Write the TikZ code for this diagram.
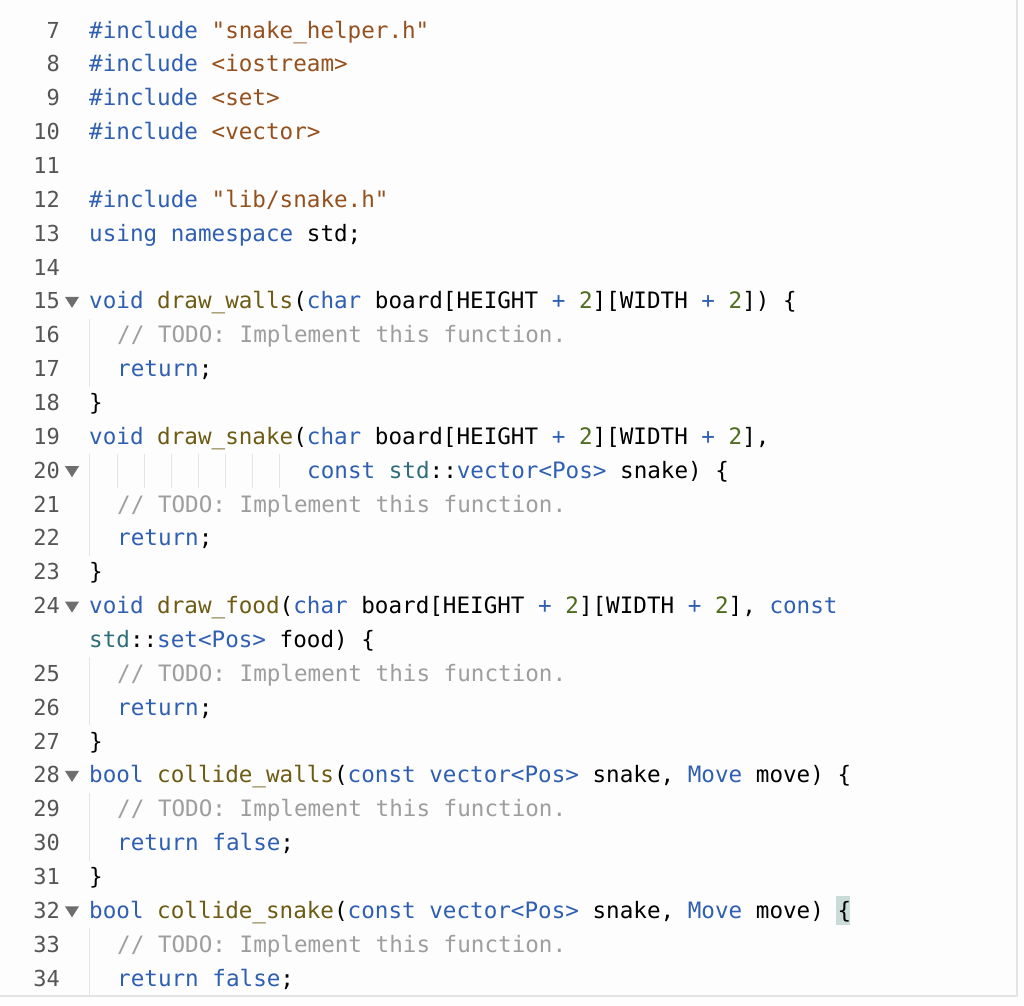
\documentclass[tikz,border=0pt]{standalone}
\usepackage{fontspec}
\setmonofont{DejaVu Sans Mono}
\definecolor{kw}{HTML}{2F5FB3}
\definecolor{fn}{HTML}{6D5B14}
\definecolor{str}{HTML}{94501D}
\definecolor{num}{HTML}{4E6B1E}
\definecolor{ty}{HTML}{2E6E7A}
\definecolor{cm}{HTML}{9E9E9E}
\definecolor{lnc}{HTML}{555555}
\definecolor{bgc}{HTML}{FDFDFD}
\definecolor{guide}{HTML}{E4E4E4}
\definecolor{curs}{HTML}{C9DCD8}
\newcommand\K[1]{\textcolor{kw}{#1}}
\newcommand\F[1]{\textcolor{fn}{#1}}
\newcommand\Sx[1]{\textcolor{str}{#1}}
\newcommand\N[1]{\textcolor{num}{#1}}
\newcommand\T[1]{\textcolor{ty}{#1}}
\newcommand\C[1]{\textcolor{cm}{#1}}
\newcommand\rowy[1]{\fpeval{31+33.86*(#1)}}
\newcommand\lnum[3]{\node[lnstyle] (n#1) at (60,{\rowy{#2}+7}) {#3};}
\newcommand\code[4]{\node[codestyle] (c#1) at (#3,{\rowy{#2}+7}) {#4};}
\newcommand\fold[1]{\fill[lnc!85] (65,{\rowy{#1}-5}) -- (79,{\rowy{#1}-5}) -- (72,{\rowy{#1}+6}) -- cycle;}
\newcommand\vguide[3]{\draw[guide,line width=1pt] (#1,{\rowy{#2}-17}) -- (#1,{\rowy{#3}+17});}
\begin{document}
\begin{tikzpicture}[x=1pt,y=-1pt,
  lnstyle/.style={anchor=base east,inner sep=0,font=\ttfamily\fontsize{22}{24}\selectfont,text=lnc},
  codestyle/.style={anchor=base west,inner sep=0,font=\ttfamily\fontsize{22.6}{26}\selectfont,text=black}]
\fill[bgc] (0,0) rectangle (1024,1005);
\useasboundingbox (0,0) rectangle (1024,1005);
\draw[guide,line width=1.5pt] (1017,0) -- (1017,996) -- (0,996);
% guides
\vguide{89}{9}{10}
\vguide{89}{13}{15}
\foreach \gx in {117,144,171,198,225,252,279} {\vguide{\gx}{13}{13}}
\vguide{89}{19}{20}
\vguide{89}{23}{24}
\vguide{89}{27}{28}
% cursor
\fill[curs] (836,{\rowy{26}-15}) rectangle (850,{\rowy{26}+14});
% folds
\fold{8}\fold{13}\fold{17}\fold{22}\fold{26}
% line numbers
\lnum{7}{0}{7}\lnum{8}{1}{8}\lnum{9}{2}{9}\lnum{10}{3}{10}\lnum{11}{4}{11}
\lnum{12}{5}{12}\lnum{13}{6}{13}\lnum{14}{7}{14}\lnum{15}{8}{15}\lnum{16}{9}{16}
\lnum{17}{10}{17}\lnum{18}{11}{18}\lnum{19}{12}{19}\lnum{20}{13}{20}\lnum{21}{14}{21}
\lnum{22}{15}{22}\lnum{23}{16}{23}\lnum{24}{17}{24}\lnum{25}{19}{25}\lnum{26}{20}{26}
\lnum{27}{21}{27}\lnum{28}{22}{28}\lnum{29}{23}{29}\lnum{30}{24}{30}\lnum{31}{25}{31}
\lnum{32}{26}{32}\lnum{33}{27}{33}\lnum{34}{28}{34}
% code
\code{7}{0}{89}{\K{\#include} \Sx{"snake\_helper.h"}}
\code{8}{1}{89}{\K{\#include} \Sx{<iostream>}}
\code{9}{2}{89}{\K{\#include} \Sx{<set>}}
\code{10}{3}{89}{\K{\#include} \Sx{<vector>}}
\code{12}{5}{89}{\K{\#include} \Sx{"lib/snake.h"}}
\code{13}{6}{89}{\K{using} \K{namespace} std;}
\code{15}{8}{89}{\K{void} \F{draw\_walls}(\K{char} board[HEIGHT \K{+} \N{2}][WIDTH \K{+} \N{2}]) \{}
\code{16}{9}{117}{\C{// TODO: Implement this function.}}
\code{17}{10}{117}{\K{return};}
\code{18}{11}{89}{\}}
\code{19}{12}{89}{\K{void} \F{draw\_snake}(\K{char} board[HEIGHT \K{+} \N{2}][WIDTH \K{+} \N{2}],}
\code{20}{13}{307}{\K{const} \T{std}::\K{vector<Pos>} snake) \{}
\code{21}{14}{117}{\C{// TODO: Implement this function.}}
\code{22}{15}{117}{\K{return};}
\code{23}{16}{89}{\}}
\code{24}{17}{89}{\K{void} \F{draw\_food}(\K{char} board[HEIGHT \K{+} \N{2}][WIDTH \K{+} \N{2}], \K{const}}
\code{24b}{18}{89}{\T{std}::\K{set<Pos>} food) \{}
\code{25}{19}{117}{\C{// TODO: Implement this function.}}
\code{26}{20}{117}{\K{return};}
\code{27}{21}{89}{\}}
\code{28}{22}{89}{\K{bool} \F{collide\_walls}(\K{const} \K{vector<Pos>} snake, \K{Move} move) \{}
\code{29}{23}{117}{\C{// TODO: Implement this function.}}
\code{30}{24}{117}{\K{return} \K{false};}
\code{31}{25}{89}{\}}
\code{32}{26}{89}{\K{bool} \F{collide\_snake}(\K{const} \K{vector<Pos>} snake, \K{Move} move) \{}
\code{33}{27}{117}{\C{// TODO: Implement this function.}}
\code{34}{28}{117}{\K{return} \K{false};}
\end{tikzpicture}
\end{document}
